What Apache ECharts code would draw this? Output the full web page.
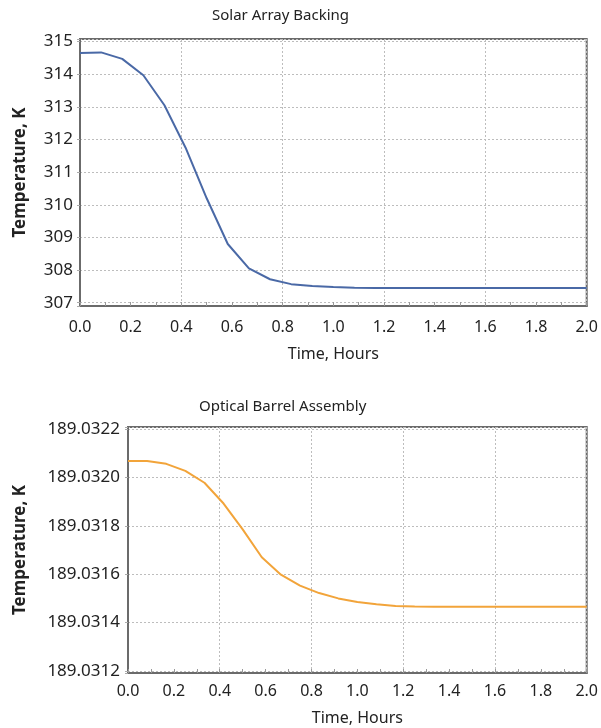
<!DOCTYPE html>
<html>
<head>
<meta charset="utf-8">
<script src="https://cdn.jsdelivr.net/npm/echarts@6/dist/echarts.min.js"></script>
<style>
html, body { margin: 0; background: #fff; }
#main { width: 601px; height: 728px; }
</style>
</head>
<body>
<div id="main"></div>
<script>
// time in hours, 5 minute steps
var hours = [0, 0.0833, 0.1667, 0.25, 0.3333, 0.4167, 0.5, 0.5833, 0.6667, 0.75, 0.8333, 0.9167,
  1.0, 1.0833, 1.1667, 1.25, 1.3333, 1.4167, 1.5, 1.5833, 1.6667, 1.75, 1.8333, 1.9167, 2.0];
var solarTemp = [314.65, 314.67, 314.47, 313.97, 313.05, 311.75, 310.2, 308.8, 308.05, 307.72, 307.57, 307.51,
  307.48, 307.46, 307.45, 307.45, 307.45, 307.45, 307.45, 307.45, 307.45, 307.45, 307.45, 307.45, 307.45];
var opticalTemp = [189.032068, 189.032068, 189.032056, 189.032027, 189.031978, 189.031892, 189.031785,
  189.031670, 189.031598, 189.031553, 189.031522, 189.031500, 189.031485, 189.031476, 189.031469,
  189.031466, 189.031465, 189.031465, 189.031465, 189.031465, 189.031465, 189.031465, 189.031465,
  189.031465, 189.031465];
var solarTicks = [307, 308, 309, 310, 311, 312, 313, 314, 315];
var opticalTicks = ['189.0312', '189.0314', '189.0316', '189.0318', '189.0320', '189.0322'];

var chart = echarts.init(document.getElementById('main'));
var font = 'Noto Sans';
var frame = '#6b6b6b';
var gridLine = { show: true, lineStyle: { color: '#bdbdbd', type: [2, 2], width: 1 } };

function timeAxis(idx) {
  return {
    type: 'value', gridIndex: idx, min: 0, max: 2, interval: 0.2,
    name: 'Time, Hours', nameLocation: 'middle', nameGap: idx === 0 ? 40 : 37,
    nameTextStyle: { color: '#222', fontSize: 16, fontFamily: font },
    axisLine: { onZero: false, lineStyle: { color: frame, width: 2 } },
    axisTick: { inside: true, length: 4, lineStyle: { color: '#999' } },
    minorTick: { show: true, splitNumber: 2, length: 4, lineStyle: { color: '#999' } },
    axisLabel: { color: '#222', fontSize: 16, fontFamily: font, margin: idx === 0 ? 13 : 10,
      formatter: function (v) { return v.toFixed(1); } },
    splitLine: { show: false }
  };
}
// extra axis only for the vertical grid lines every 0.4 h
function gridAxis(idx) {
  return {
    type: 'value', gridIndex: idx, min: 0, max: 2, interval: 0.4,
    axisLine: { show: false, onZero: false }, axisTick: { show: false }, axisLabel: { show: false },
    splitLine: gridLine
  };
}

var option = {
  animation: false,
  title: [
    { text: 'Solar Array Backing', left: 212, top: 8, padding: 0,
      textStyle: { fontSize: 15, fontWeight: 'normal', color: '#222', fontFamily: font } },
    { text: 'Optical Barrel Assembly', left: 199, top: 399, padding: 0,
      textStyle: { fontSize: 15, fontWeight: 'normal', color: '#222', fontFamily: font } }
  ],
  grid: [
    { left: 80, top: 39, width: 507, height: 267, show: true, borderColor: frame, borderWidth: 2 },
    { left: 128, top: 427, width: 460, height: 246, show: true, borderColor: frame, borderWidth: 2 }
  ],
  xAxis: [timeAxis(0), gridAxis(0), timeAxis(1), gridAxis(1)],
  yAxis: [
    {
      type: 'value', gridIndex: 0, min: 306.9, max: 315.08, splitNumber: 8,
      name: 'Temperature, K', nameLocation: 'middle', nameGap: 51,
      nameTextStyle: { color: '#222', fontSize: 17, fontWeight: 'bold', fontFamily: font },
      axisLine: { show: true, lineStyle: { color: frame, width: 2 } },
      axisTick: { show: true, length: 3, lineStyle: { color: '#aaa' } },
      axisLabel: { color: '#222', fontSize: 17, fontFamily: font, margin: 7,
        formatter: function (v) { return solarTicks.indexOf(v) >= 0 ? String(v) : ''; } },
      splitLine: gridLine
    },
    {
      type: 'value', gridIndex: 1, min: 189.0311917, max: 189.0322083, splitNumber: 5,
      name: 'Temperature, K', nameLocation: 'middle', nameGap: 99,
      nameTextStyle: { color: '#222', fontSize: 17, fontWeight: 'bold', fontFamily: font },
      axisLine: { show: true, lineStyle: { color: frame, width: 2 } },
      axisTick: { show: true, length: 3, lineStyle: { color: '#aaa' } },
      axisLabel: { color: '#222', fontSize: 17, fontFamily: font, margin: 8,
        formatter: function (v) {
          var s = v.toFixed(4);
          return opticalTicks.indexOf(s) >= 0 && Math.abs(v - Number(s)) < 1e-9 ? s : '';
        } },
      splitLine: gridLine
    }
  ],
  series: [
    {
      type: 'line', xAxisIndex: 0, yAxisIndex: 0, showSymbol: false,
      lineStyle: { color: '#4a69a6', width: 2 },
      data: hours.map(function (h, i) { return [h, solarTemp[i]]; })
    },
    {
      type: 'line', xAxisIndex: 2, yAxisIndex: 1, showSymbol: false,
      lineStyle: { color: '#f2a43a', width: 2 },
      data: hours.map(function (h, i) { return [h, opticalTemp[i]]; })
    }
  ]
};
chart.setOption(option);
</script>
</body>
</html>
